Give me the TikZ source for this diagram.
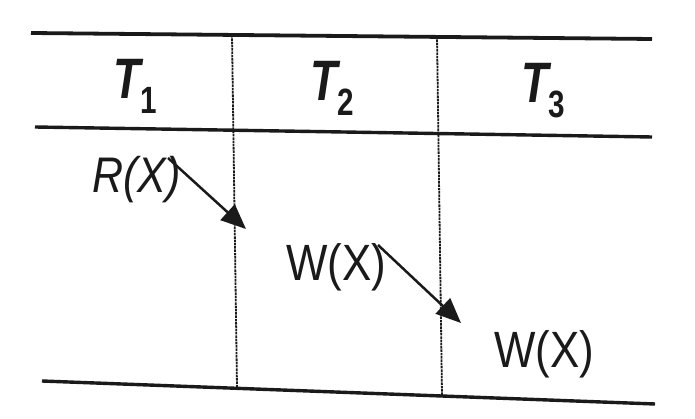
\documentclass[tikz,border=0pt]{standalone}
\usepackage{fontspec}
\setmainfont{Liberation Sans}
\newfontfamily\labfont[FakeStretch=0.86]{Liberation Sans}
\newfontfamily\hdfont[FakeStretch=0.78]{Liberation Sans}
\usetikzlibrary{arrows.meta}
\definecolor{ink}{HTML}{1A1A1A}
\tikzset{
  rule/.style={draw=ink, line width=3.8pt},
  colrule/.style={draw=ink, line width=1.8pt, dash pattern=on 2.5pt off 0.8pt},
  hd/.style={inner sep=0pt, anchor=base west, text=ink, font=\hdfont\bfseries\itshape\fontsize{57}{57}\selectfont},
  op/.style={inner sep=0pt, anchor=base west, text=ink, font=\labfont\fontsize{51}{51}\selectfont},
  conn/.style={draw=ink, line width=2.5pt, -{Triangle[length=25pt,width=21pt]}}
}
\newcommand{\hdsub}[1]{\raisebox{-15pt}{\upshape\fontsize{38}{38}\selectfont #1}}
\begin{document}
\begin{tikzpicture}[x=1pt,y=-1pt]
\useasboundingbox[fill=white] (0,0) rectangle (695,419);
% table rules
\draw[rule] (31,33) -- (652,39);
\draw[rule, line width=3.4pt] (35,127) -- (652,137);
\draw[rule, line width=3.4pt] (42,381) -- (655,404);
\draw[colrule] (232,35) -- (237,387);
\draw[colrule] (437,36) -- (442,395);
% headers
\node[hd] (t1) at (113,99) {T\hdsub{1}};
\node[hd] (t2) at (310,101) {T\hdsub{2}};
\node[hd] (t3) at (521,103) {T\hdsub{3}};
% operations
\node[op, font=\labfont\itshape\fontsize{50}{50}\selectfont] (r1) at (92,193) {R(X)};
\node[op] (w2) at (286,280) {W(X)};
\node[op] (w3) at (494,367) {W(X)};
% connectors
\coordinate (a1s) at (168,158);
\coordinate (a1e) at (246,229);
\coordinate (a2s) at (378,245);
\coordinate (a2e) at (461,323);
\draw[conn] (a1s) -- (a1e);
\draw[conn] (a2s) -- (a2e);
\end{tikzpicture}
\end{document}
